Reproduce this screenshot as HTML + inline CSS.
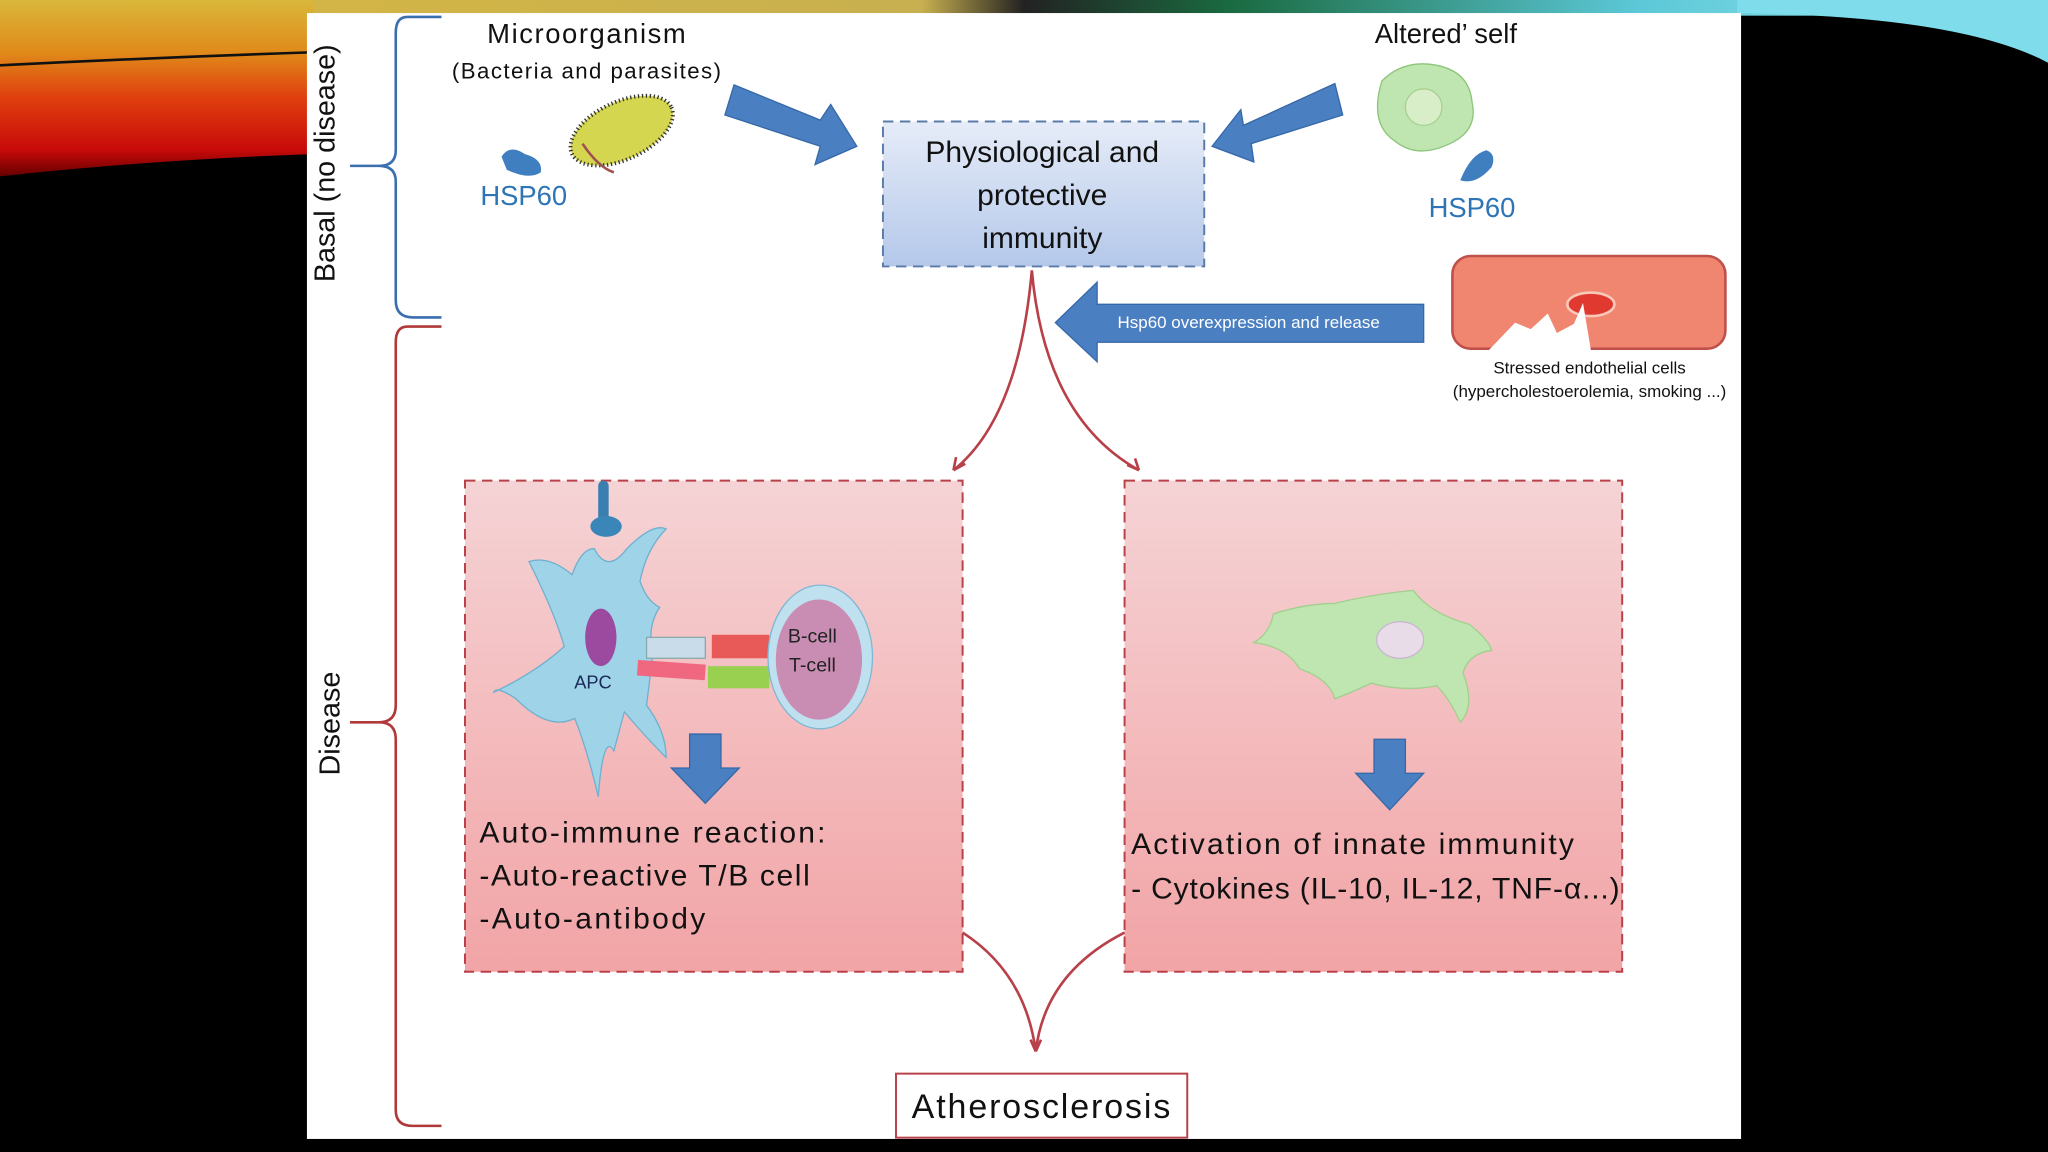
<!DOCTYPE html>
<html><head><meta charset="utf-8"><style>
html,body{margin:0;padding:0;background:#000;width:2048px;height:1152px;overflow:hidden}
svg{display:block}
text{font-family:"Liberation Sans",sans-serif}
</style></head><body>
<svg width="2048" height="1152" viewBox="0 0 1568 882" xmlns="http://www.w3.org/2000/svg">
<defs>
<linearGradient id="sw" x1="0" y1="0" x2="0" y2="1">
<stop offset="0" stop-color="#d9b73a"/><stop offset="0.3" stop-color="#e08a1a"/><stop offset="0.55" stop-color="#e0400e"/><stop offset="0.85" stop-color="#c80a0a"/><stop offset="1" stop-color="#600"/></linearGradient>
<linearGradient id="top" x1="0" y1="0" x2="1" y2="0">
<stop offset="0" stop-color="#d8b840"/><stop offset="0.45" stop-color="#c8b050"/><stop offset="0.5" stop-color="#222"/><stop offset="0.6" stop-color="#1a6a40"/><stop offset="0.8" stop-color="#5cc8d8"/><stop offset="1" stop-color="#a0eaf0"/></linearGradient>
<linearGradient id="bb" x1="0" y1="0" x2="0" y2="1"><stop offset="0" stop-color="#e6ecf8"/><stop offset="1" stop-color="#b4c8ea"/></linearGradient>
<linearGradient id="pk" x1="0" y1="0" x2="0" y2="1"><stop offset="0" stop-color="#f5d3d5"/><stop offset="1" stop-color="#f2a4a6"/></linearGradient>
</defs>
<rect width="1568" height="882" fill="#000"/>
<rect x="0" y="0" width="1568" height="12" fill="url(#top)"/>
<path d="M0 0 H240 V118 Q120 122 0 135 Z" fill="url(#sw)"/>
<path d="M0 50 Q120 44 240 40" stroke="#111" stroke-width="2" fill="none"/>
<path d="M1330 0 H1568 V48 Q1500 12 1330 10 Z" fill="#7fdcea"/>
<path d="M1380 14 Q1500 20 1568 52 V70 Q1510 30 1380 14Z" fill="#000"/>
<rect x="235" y="10" width="1098" height="862" fill="#fff"/>
<!-- braces -->
<path d="M338 13 H312 Q303 13 303 25 V115 Q303 127 290 127 H268 M290 127 Q303 127 303 139 V230 Q303 243 316 243 H338" stroke="#3a6fb0" stroke-width="2" fill="none"/>
<path d="M338 250 H312 Q303 250 303 262 V540 Q303 553 290 553 H268 M290 553 Q303 553 303 566 V850 Q303 862 316 862 H338" stroke="#b03a3a" stroke-width="2" fill="none"/>
<text transform="translate(256,125) rotate(-90)" text-anchor="middle" font-size="22" fill="#111">Basal (no disease)</text>
<text transform="translate(260,554) rotate(-90)" text-anchor="middle" font-size="22" fill="#111">Disease</text>
<!-- top left -->
<text x="449" y="33" text-anchor="middle" font-size="21" fill="#111" textLength="152">Microorganism</text>
<text x="449" y="60" text-anchor="middle" font-size="17" fill="#111" textLength="206">(Bacteria and parasites)</text>
<ellipse cx="476" cy="100" rx="42" ry="22" transform="rotate(-25 476 100)" fill="#d4d650" stroke="#333" stroke-width="3" stroke-dasharray="1 2"/>
<path d="M446 110 Q458 128 470 132" stroke="#a05050" stroke-width="2" fill="none"/>
<path d="M384 120 Q390 110 402 118 Q416 122 414 132 Q405 138 388 130 Z" fill="#3f7fc0"/>
<text x="401" y="157" text-anchor="middle" font-size="21" fill="#2e75b6">HSP60</text>
<polygon points="562,65 628,92 636,80 656,112 624,126 628,112 555,88" fill="#4a7fc1" stroke="#3568a8"/>
<!-- center box -->
<rect x="676" y="93" width="246" height="111" fill="url(#bb)" stroke="#5a7aa8" stroke-width="1.5" stroke-dasharray="8 5"/>
<text x="798" y="124" text-anchor="middle" font-size="23" fill="#111">Physiological and</text>
<text x="798" y="157" text-anchor="middle" font-size="23" fill="#111">protective</text>
<text x="798" y="190" text-anchor="middle" font-size="23" fill="#111">immunity</text>
<!-- top right -->
<text x="1107" y="33" text-anchor="middle" font-size="21" fill="#111">Altered’ self</text>
<path d="M1058 62 Q1075 45 1100 50 Q1125 55 1127 78 Q1132 100 1110 110 Q1085 122 1068 108 Q1048 95 1058 62Z" fill="#bfe6b0" stroke="#8cc47a"/>
<circle cx="1090" cy="82" r="14" fill="#d8eec8" stroke="#a8cf90"/>
<path d="M1118 138 Q1126 118 1138 115 Q1146 118 1142 128 Q1130 142 1118 138Z" fill="#3f7fc0"/>
<text x="1127" y="166" text-anchor="middle" font-size="21" fill="#2e75b6">HSP60</text>
<polygon points="1022,64 1028,88 958,110 960,124 928,112 950,84 952,96" fill="#4a7fc1" stroke="#3568a8"/>
<!-- hsp60 arrow -->
<polygon points="1090,233 840,233 840,216 808,247 840,277 840,262 1090,262" fill="#4a7fc1" stroke="#3568a8"/>
<text x="956" y="251" text-anchor="middle" font-size="13" fill="#fff">Hsp60 overexpression and release</text>
<!-- endothelial -->
<rect x="1112" y="196" width="209" height="71" rx="14" fill="#f08570" stroke="#c0504a" stroke-width="2"/>
<ellipse cx="1218" cy="233" rx="18" ry="9" fill="#e03a30" stroke="#f8c8b8" stroke-width="2"/>
<path d="M1140 268 L1160 247 L1172 252 L1185 240 L1192 255 L1205 248 L1212 232 L1218 268Z" fill="#fff"/>
<text x="1217" y="286" text-anchor="middle" font-size="13" fill="#111">Stressed endothelial cells</text>
<text x="1217" y="304" text-anchor="middle" font-size="13" fill="#111">(hypercholestoerolemia, smoking ...)</text>
<!-- red curves top -->
<path d="M790 207 Q780 320 730 360 M790 207 Q800 320 872 360" stroke="#b84048" stroke-width="2" fill="none"/>
<path d="M730 360 l2 -10 M730 360 l9 -5 M872 360 l-9 -4 M872 360 l-3 -9" stroke="#b84048" stroke-width="2"/>
<!-- pink boxes -->
<rect x="356" y="368" width="381" height="376" fill="url(#pk)" stroke="#b84048" stroke-width="1.5" stroke-dasharray="8 5"/>
<rect x="861" y="368" width="381" height="376" fill="url(#pk)" stroke="#b84048" stroke-width="1.5" stroke-dasharray="8 5"/>
<!-- APC -->
<path d="M455 420 Q465 440 480 420 Q500 400 510 405 Q495 420 490 445 Q495 460 505 465 Q495 480 500 500 L495 540 Q510 560 510 580 Q495 565 478 545 L470 575 Q462 560 458 610 Q450 575 440 550 Q420 560 395 535 Q380 525 378 530 Q410 515 432 495 Q425 470 405 430 Q420 425 438 440 Q445 420 455 420Z" fill="#9fd4e8" stroke="#6fb0cf"/>
<ellipse cx="460" cy="488" rx="12" ry="22" fill="#9b4aa0"/>
<path d="M462 372 V398" stroke="#3a7fb0" stroke-width="8" stroke-linecap="round"/>
<ellipse cx="464" cy="403" rx="12" ry="8" fill="#3a86b8"/>
<text x="454" y="527" text-anchor="middle" font-size="14" fill="#1a2a5a">APC</text>
<rect x="495" y="488" width="45" height="16" fill="#c8dcea" stroke="#8aa"/>
<rect x="545" y="486" width="44" height="18" fill="#e85a58"/>
<rect x="488" y="507" width="52" height="12" fill="#f06880" transform="rotate(4 514 513)"/>
<rect x="542" y="510" width="47" height="17" fill="#9ad050"/>
<ellipse cx="628" cy="503" rx="40" ry="55" fill="#bfe0ef" stroke="#7fb7d4"/>
<ellipse cx="627" cy="505" rx="33" ry="46" fill="#c98db3"/>
<text x="622" y="492" text-anchor="middle" font-size="15" fill="#222">B-cell</text>
<text x="622" y="514" text-anchor="middle" font-size="15" fill="#222">T-cell</text>
<polygon points="528,562 552,562 552,588 566,588 540,615 514,588 528,588" fill="#4a7fc1" stroke="#3568a8"/>
<text x="367" y="645" font-size="23" fill="#111" textLength="265">Auto-immune reaction:</text>
<text x="367" y="678" font-size="23" fill="#111" textLength="253">-Auto-reactive T/B cell</text>
<text x="367" y="711" font-size="23" fill="#111" textLength="173">-Auto-antibody</text>
<!-- right cell -->
<path d="M975 470 Q1000 462 1022 462 Q1050 455 1082 452 Q1095 470 1125 478 Q1140 490 1142 498 Q1125 500 1120 515 Q1130 540 1118 553 Q1110 535 1100 525 Q1075 530 1050 523 Q1035 530 1022 535 Q1018 520 995 512 Q985 495 960 492 Q972 485 975 470Z" fill="#bfe6b0" stroke="#a0d08e"/>
<ellipse cx="1072" cy="490" rx="18" ry="14" fill="#e8dce8" stroke="#c8b8d0"/>
<polygon points="1052,566 1076,566 1076,592 1090,592 1064,620 1038,592 1052,592" fill="#4a7fc1" stroke="#3568a8"/>
<text x="866" y="654" font-size="23" fill="#111" textLength="339">Activation of innate immunity</text>
<text x="866" y="688" font-size="23" fill="#111" textLength="374">- Cytokines (IL-10, IL-12, TNF-α...)</text>
<!-- bottom curves -->
<path d="M737 714 Q785 745 793 805 M861 714 Q800 745 793 805" stroke="#b84048" stroke-width="2" fill="none"/>
<path d="M793 805 l-4 -9 M793 805 l4 -9" stroke="#b84048" stroke-width="2"/>
<rect x="686" y="822" width="223" height="49" fill="#fff" stroke="#b84048" stroke-width="1.5"/>
<text x="797" y="856" text-anchor="middle" font-size="26" fill="#111" textLength="198">Atherosclerosis</text>
</svg>
</body></html>
